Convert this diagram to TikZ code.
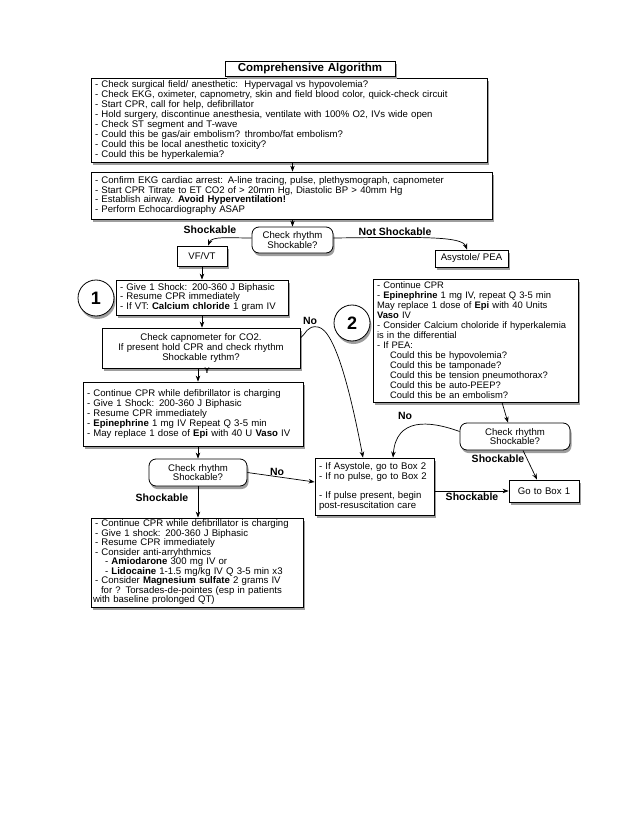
\documentclass[tikz,border=0pt]{standalone}
\usepackage{fontspec}
\setmainfont{Liberation Sans}
\usetikzlibrary{shadows,arrows.meta}
\begin{document}
\begin{tikzpicture}[x=1pt,y=-1pt,
  shad/.style={general shadow={fill=black!38, shadow xshift=1.5pt, shadow yshift=-3pt}},
  box/.style={draw=black, line width=0.8pt, fill=white, shad, inner xsep=4pt, inner ysep=0pt, align=left, font=\fontsize{9.6}{9.8}\selectfont},
  cbox/.style={box, align=center},
  rbox/.style={cbox, rounded corners=7pt},
  num/.style={circle, draw=black, line width=0.8pt, fill=white, shad, inner sep=0pt, minimum size=36pt, font=\bfseries\fontsize{18}{18}\selectfont},
  arr/.style={-{Stealth[length=6pt,width=4.5pt]}, line width=0.7pt},
  lbl/.style={inner sep=1pt, font=\bfseries\fontsize{10.5}{11}\selectfont}
]
\useasboundingbox (0,0) rectangle (638,826);

\node[box, text width=388pt, minimum height=84pt, font=\fontsize{9.6}{9.9}\selectfont] (boxA) at (289,120) {%
- Check surgical field/ anesthetic:\ \ Hypervagal vs hypovolemia?\\
- Check EKG, oximeter, capnometry, skin and field blood color, quick-check circuit\\
- Start CPR, call for help, defibrillator\\
- Hold surgery, discontinue anesthesia, ventilate with 100\% O2, IVs wide open\\
- Check ST segment and T-wave\\
- Could this be gas/air embolism? thrombo/fat embolism?\\
- Could this be local anesthetic toxicity?\\
- Could this be hyperkalemia?};

\node[cbox, text width=162pt, minimum height=15pt, font=\bfseries\fontsize{11.5}{12}\selectfont] (title) at (310,68.5) {Comprehensive Algorithm};

\node[box, text width=393pt, minimum height=47pt, font=\fontsize{9.6}{9.5}\selectfont] (boxB) at (291.5,195.5) {%
- Confirm EKG cardiac arrest: A-line tracing, pulse, plethysmograph, capnometer\\
- Start CPR Titrate to ET CO2 of > 20mm Hg, Diastolic BP > 40mm Hg\\
- Establish airway. \textbf{Avoid Hyperventilation!}\\
- Perform Echocardiography ASAP};

\node[rbox, text width=73pt, minimum height=26pt] (chk1) at (292.5,240) {Check rhythm\\Shockable?};
\node[cbox, text width=42pt, minimum height=20pt] (vfvt) at (202,256) {VF/VT};
\node[cbox, text width=65pt, minimum height=17pt] (asys) at (471.5,258.5) {Asystole/ PEA};

\node[box, text width=164pt, minimum height=35pt] (box1) at (202,297.5) {%
- Give 1 Shock: 200-360 J Biphasic\\
- Resume CPR immediately\\
- If VT: \textbf{Calcium chloride} 1 gram IV};
\node[num] (c1) at (96,298) {1};

\node[cbox, text width=190pt, minimum height=40pt] (capno) at (201,348) {%
Check capnometer for CO2.\\
If present hold CPR and check rhythm\\
Shockable rythm?};

\node[box, text width=212pt, minimum height=64pt] (box3) at (193,414) {%
- Continue CPR while defibrillator is charging\\
- Give 1 Shock: 200-360 J Biphasic\\
- Resume CPR immediately\\
- \textbf{Epinephrine} 1 mg IV Repeat Q 3-5 min\\
- May replace 1 dose of \textbf{Epi} with 40 U \textbf{Vaso} IV};

\node[rbox, text width=90pt, minimum height=27pt] (chk2) at (198,472.5) {Check rhythm\\Shockable?};

\node[box, text width=204pt, minimum height=89pt, font=\fontsize{9.6}{9.5}\selectfont] (box4) at (197,562.5) {%
- Continue CPR while defibrillator is charging\\
- Give 1 shock: 200-360 J Biphasic\\
- Resume CPR immediately\\
- Consider anti-arryhthmics\\
\hspace*{10pt}- \textbf{Amiodarone} 300 mg IV or\\
\hspace*{10pt}- \textbf{Lidocaine} 1-1.5 mg/kg IV Q 3-5 min x3\\
- Consider \textbf{Magnesium sulfate} 2 grams IV\\
\hspace*{6pt}for ? Torsades-de-pointes (esp in patients\\
\hspace*{-2pt}with baseline prolonged QT)};

\node[box, text width=197pt, minimum height=123pt, font=\fontsize{9.4}{10}\selectfont] (box2) at (475.5,340.5) {%
- Continue CPR\\
- \textbf{Epinephrine} 1 mg IV, repeat Q 3-5 min\\
May replace 1 dose of \textbf{Epi} with 40 Units\\
\textbf{Vaso} IV\\
- Consider Calcium choloride if hyperkalemia\\
is in the differential\\
- If PEA:\\
\hspace*{13pt}Could this be hypovolemia?\\
\hspace*{13pt}Could this be tamponade?\\
\hspace*{13pt}Could this be tension pneumothorax?\\
\hspace*{13pt}Could this be auto-PEEP?\\
\hspace*{13pt}Could this be an embolism?};
\node[num] (c2) at (352,323) {2};

\node[rbox, text width=102pt, minimum height=27pt] (chk3) at (515,436.5) {Check rhythm\\Shockable?};

\node[box, text width=111pt, minimum height=57pt] (mid) at (374.5,486.5) {%
- If Asystole, go to Box 2\\
- If no pulse, go to Box 2\\[9.8pt]
- If pulse present, begin\\
post-resuscitation care};

\node[cbox, text width=62pt, minimum height=22pt] (gob) at (544,491) {Go to Box 1};

% connectors
\draw[arr] (boxA.south -| chk1.north) -- (boxB.north -| chk1.north);
\draw[arr] (boxB.south -| chk1.north) -- (chk1.north);
\draw[arr] ([yshift=2pt]chk1.west) .. controls (228,238) and (212,236) .. ([xshift=6pt]vfvt.north);
\draw[arr] ([yshift=2pt]chk1.east) .. controls (420,237) and (462,236) .. ([xshift=-4.5pt]asys.north);
\node[lbl] (lsh1) at (210,230) {Shockable};
\node[lbl] (lnsh) at (395,232) {Not Shockable};

\draw[arr] (vfvt.south) -- (box1.north);
\draw[arr] (box1.south) -- (box1.south |- capno.north);
\draw[arr] (capno.south -| chk2.north) -- (box3.north -| chk2.north);
\node[lbl, font=\bfseries\fontsize{8}{9}\selectfont] (ly) at (207,371) {Y};
\draw[arr] (box3.south -| chk2.north) -- (chk2.north);
\draw[arr] (chk2.south) -- (chk2.south |- box4.north);
\node[lbl] (lsh2) at (162,498) {Shockable};
\draw[arr] (chk2.east) -- ([yshift=4.5pt]mid.west);
\node[lbl] (lno2) at (277,472) {No};

\draw[arr] ([yshift=10pt]capno.east) .. controls (306,334) and (307,325) .. (318,327)
  .. controls (336,330) and (352,400) .. ([xshift=-11.5pt]mid.north);
\node[lbl] (lno1) at (310,321) {No};

\draw[arr] ([xshift=26.5pt]box2.south) -- ([xshift=-7pt]chk3.north);
\draw[arr] ([yshift=5pt]chk3.west) .. controls (428,420) and (396,418) .. ([xshift=18.5pt]mid.north);
\node[lbl] (lno3) at (405,416) {No};
\draw[arr] ([xshift=8pt]chk3.south) -- ([xshift=-7pt]gob.north);
\node[lbl] (lsh3) at (498,459) {Shockable};
\draw[arr] (mid.east |- gob.west) -- (gob.west);
\node[lbl] (lsh4) at (472,497) {Shockable};
\end{tikzpicture}
\end{document}
